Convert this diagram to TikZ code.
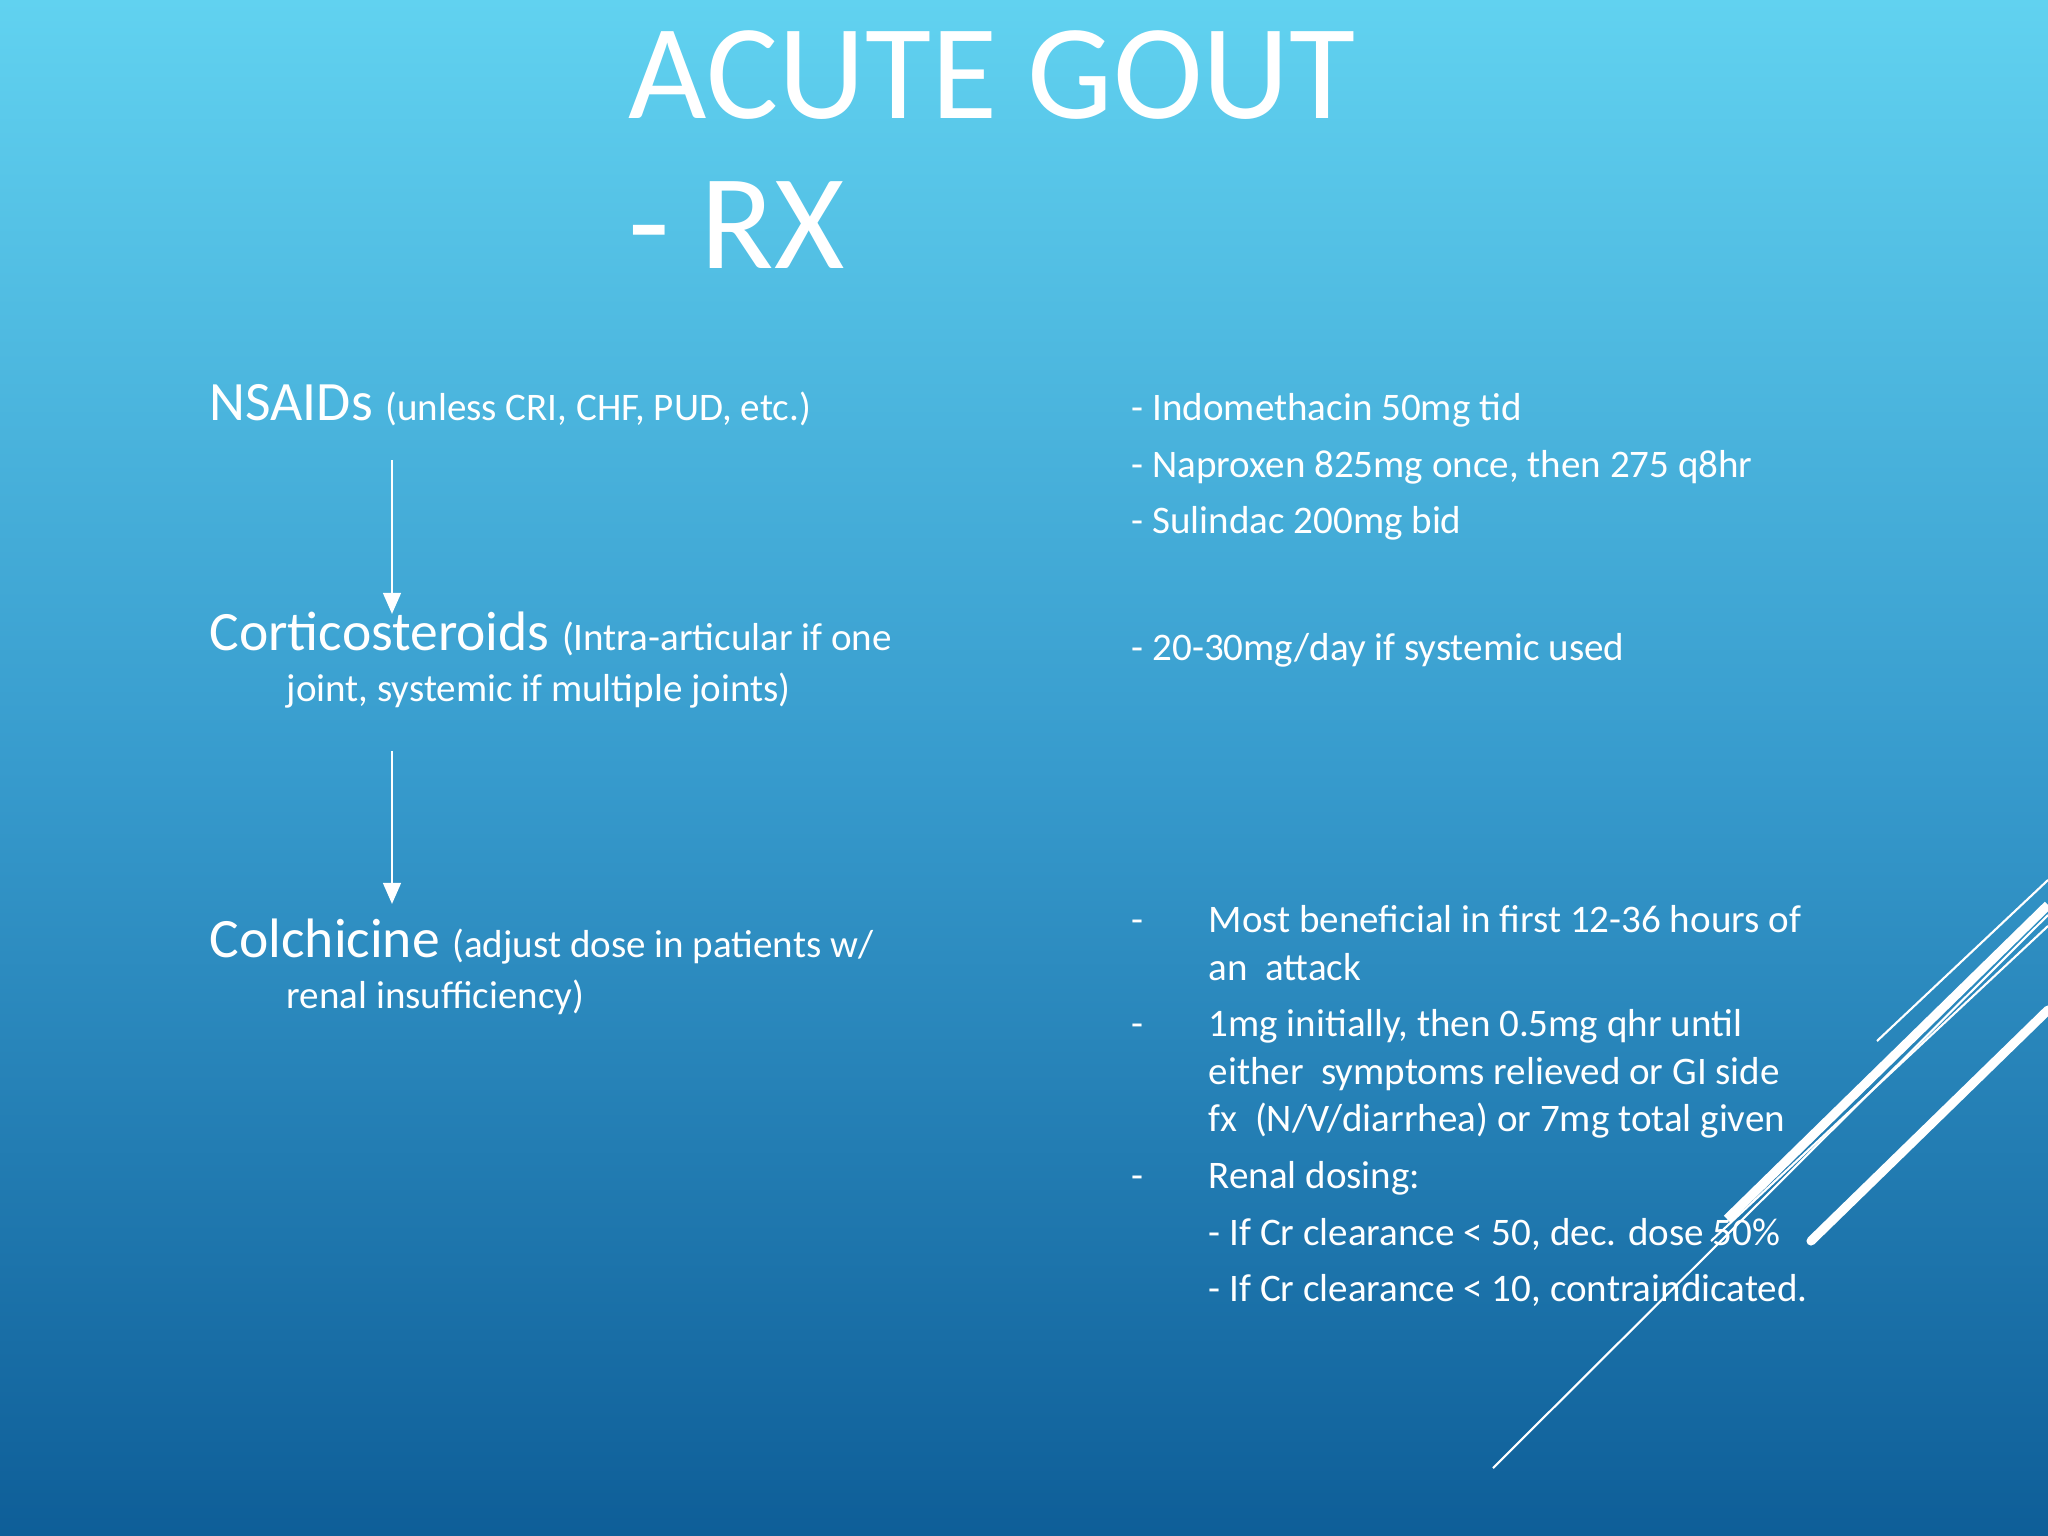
\documentclass[tikz,border=0pt]{standalone}
\usepackage{fontspec}
\setmainfont{Carlito}
\usetikzlibrary{arrows.meta}
\definecolor{bgtop}{RGB}{97,210,240}
\definecolor{bgmid}{RGB}{55,155,205}
\definecolor{bgbot}{RGB}{14,94,152}
\begin{document}
\begin{tikzpicture}[x=0.01cm,y=-0.01cm,
  txt/.style={anchor=base west,inner sep=0,text=white},
  head/.style={txt,font=\fontsize{15.8}{19}\selectfont},
  small/.style={font=\fontsize{11.1}{14}\selectfont},
  flow/.style={draw=white,line width=0.8pt,-{Triangle[width=5pt,length=6pt]}},
  deco/.style={draw=white,line width=#1}]
\shade[top color=bgtop,bottom color=bgbot,middle color=bgmid] (0,0) rectangle (2048,1536);
\useasboundingbox (0,0) rectangle (2048,1536);
% title
\node[txt,font=\fontsize{38.5}{46}\selectfont] (t1) at (628,118) {ACUTE GOUT};
\node[txt,font=\fontsize{38.5}{46}\selectfont] (t2) at (628,268) {- RX};
% left column
\node[head] (n1) at (209,420) {NSAIDs {\fontsize{11.1}{14}\selectfont (unless CRI, CHF, PUD, etc.)}};
\node[head] (n2) at (209,650) {Corticosteroids {\fontsize{11.1}{14}\selectfont (Intra-articular if one}};
\node[txt,small] (n2b) at (286,701) {joint, systemic if multiple joints)};
\node[head] (n3) at (209,957) {Colchicine {\fontsize{11.1}{14}\selectfont (adjust dose in patients w/}};
\node[txt,small] (n3b) at (286,1008) {renal insufficiency)};
\coordinate (a1s) at (392,460); \coordinate (a1e) at (392,614);
\coordinate (a2s) at (392,751); \coordinate (a2e) at (392,904);
\draw[flow] (a1s) -- (a1e);
\draw[flow] (a2s) -- (a2e);
% right column
\node[txt,small] (r1) at (1131,420) {- Indomethacin 50mg tid};
\node[txt,small] (r2) at (1131,477) {- Naproxen 825mg once, then 275 q8hr};
\node[txt,small] (r3) at (1131,533) {- Sulindac 200mg bid};
\node[txt,small] (r4) at (1131,660) {- 20-30mg/day if systemic used};
\node[txt,small] (d1) at (1131,932) {-};
\node[txt,small] (c1) at (1208,932) {Most beneficial in first 12-36 hours of};
\node[txt,small] (c1b) at (1208,980) {an\ \ attack};
\node[txt,small] (d2) at (1131,1036) {-};
\node[txt,small] (c2) at (1208,1036) {1mg initially, then 0.5mg qhr until};
\node[txt,small] (c2b) at (1208,1084) {either\ \ symptoms relieved or GI side};
\node[txt,small] (c2c) at (1208,1131) {fx\ \ (N/V/diarrhea) or 7mg total given};
\node[txt,small] (d3) at (1131,1188) {-};
\node[txt,small] (c3) at (1208,1188) {Renal dosing:};
\node[txt,small] (c4) at (1208,1245) {- If Cr clearance < 50, dec. dose 50\%};
\node[txt,small] (c5) at (1208,1301) {- If Cr clearance < 10, contraindicated.};
% decorative lines
\draw[deco=0.6pt] (1877,1041) -- (2048,880);
\draw[deco=2.6pt] (1727,1219) -- (2048,905);
\draw[deco=0.6pt] (1493,1468) -- (2048,915);
\draw[deco=0.6pt] (1711,1241) -- (2048,926);
\draw[deco=2.6pt,line cap=round] (1811,1241) -- (2048,1010);
\end{tikzpicture}
\end{document}
